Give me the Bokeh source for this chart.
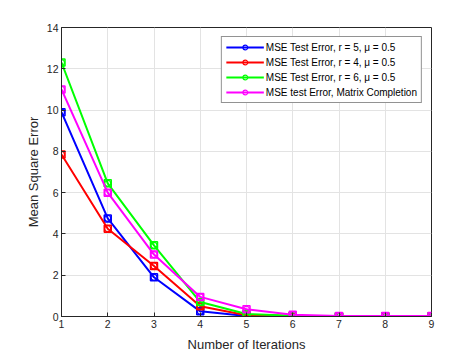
from bokeh.plotting import figure
from bokeh.embed import file_html
from bokeh.resources import INLINE
from bokeh.models import Range1d, FixedTicker, Legend, LegendItem

iterations = [1, 2, 3, 4, 5, 6, 7, 8, 9]
mse_r5 = [9.9, 4.75, 1.9, 0.25, 0.03, 0.01, 0.0, 0.0, 0.0]
mse_r4 = [7.85, 4.25, 2.45, 0.5, 0.06, 0.02, 0.01, 0.0, 0.0]
mse_r6 = [12.3, 6.45, 3.45, 0.7, 0.12, 0.04, 0.01, 0.01, 0.0]
mse_mc = [11.0, 6.0, 3.0, 0.95, 0.35, 0.08, 0.03, 0.02, 0.02]
labels = ["MSE Test Error, r = 5, \u03bc = 0.5",
          "MSE Test Error, r = 4, \u03bc = 0.5",
          "MSE Test Error, r = 6, \u03bc = 0.5",
          "MSE test Error, Matrix Completion"]
colors = ["#0000ff", "#ff0000", "#00ff00", "#ff00ff"]
x_ticks = [1, 2, 3, 4, 5, 6, 7, 8, 9]
y_ticks = [0, 2, 4, 6, 8, 10, 12, 14]

FONT = "Liberation Sans"
p = figure(width=474, height=355, output_backend="svg", toolbar_location=None,
           x_range=Range1d(1, 9), y_range=Range1d(0, 14),
           min_border_left=61, min_border_right=43, min_border_top=27, min_border_bottom=39)
p.background_fill_color = "white"
p.border_fill_color = "white"
p.outline_line_color = "#262626"
p.outline_line_width = 1

series = [mse_r5, mse_r4, mse_r6, mse_mc]
items = []
for ys, c, lab in zip(series, colors, labels):
    l = p.line(iterations, ys, line_color=c, line_width=2.0)
    s = p.scatter(iterations, ys, marker="square", size=7, line_color=c, fill_color=None, line_width=1.5)
    ci = p.scatter(iterations, ys, marker="circle", size=6, line_color=c, fill_color=None, line_width=1.2)
    items.append(LegendItem(label=lab, renderers=[l, ci]))

for ax in (p.xaxis[0], p.yaxis[0]):
    ax.major_tick_in = 4
    ax.major_tick_out = 0
    ax.minor_tick_line_color = None
    ax.axis_line_color = "#262626"
    ax.major_tick_line_color = "#262626"
    ax.major_label_text_font = FONT
    ax.major_label_text_font_size = "10.5px"
    ax.major_label_text_color = "#262626"
    ax.axis_label_text_font = FONT
    ax.axis_label_text_font_size = "13px"
    ax.axis_label_text_font_style = "normal"
    ax.axis_label_text_color = "#262626"

p.xaxis.ticker = FixedTicker(ticks=x_ticks)
p.yaxis.ticker = FixedTicker(ticks=y_ticks)
p.xaxis.axis_label = "Number of Iterations"
p.yaxis.axis_label = "Mean Square Error"
p.xaxis.major_label_standoff = 3
p.yaxis.major_label_standoff = 3
p.xaxis.axis_label_standoff = 6
p.yaxis.axis_label_standoff = 3

p.xgrid.grid_line_color = "#e3e3e3"
p.ygrid.grid_line_color = "#e3e3e3"
p.xgrid.ticker = FixedTicker(ticks=x_ticks)
p.ygrid.ticker = FixedTicker(ticks=y_ticks)

legend = Legend(items=items, location="top_right")
legend.label_text_font = FONT
legend.label_text_font_size = "10px"
legend.label_text_color = "#000000"
legend.glyph_width = 38
legend.glyph_height = 12
legend.label_height = 12
legend.spacing = 3
legend.padding = 4
legend.margin = 9
legend.label_standoff = 2
legend.border_line_color = "#262626"
legend.border_line_width = 1
legend.background_fill_alpha = 1.0
p.add_layout(legend)

open("out.html", "w").write(file_html(p, INLINE))
